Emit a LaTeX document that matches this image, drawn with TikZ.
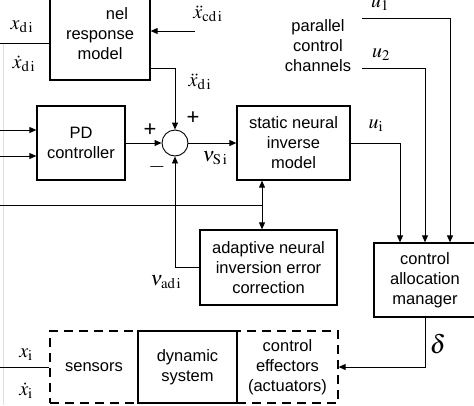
\documentclass[tikz,border=0pt]{standalone}
\usepackage{mathptmx}
\usepackage{fontspec}
\setmainfont{Liberation Sans}
\usepackage{tikz}
\usetikzlibrary{arrows.meta}
\newcommand{\lbl}{\fontsize{20}{24}\selectfont}

\begin{document}
\begin{tikzpicture}[x=1pt, y=-1pt,
        blk/.style={draw, line width=1.3pt, inner sep=0pt, align=center,
                font=\fontsize{16.5}{20}\selectfont},
        arr/.style={line width=.9pt, -{Triangle[length=7pt,width=6pt]}},
        ln/.style={line width=.9pt},
        lab/.style={inner sep=0pt}]
        \useasboundingbox (0,0) rectangle (474,405);
        \clip (0,0) rectangle (474,405);
        \draw[gray!25, line width=1pt] (3,43) -- (3,405);
        \node[blk, minimum width=100pt, minimum height=92pt] (rmodel) at (100,34) {\hspace*{34pt}nel\\response\\model};
        \node[blk, minimum width=88pt, minimum height=74pt] (pd) at (81,143) {PD\\controller};
        \node[draw, circle, line width=.9pt, minimum size=26pt, inner sep=0pt] (sum) at (175,143) {};
        \node[blk, minimum width=113pt, minimum height=74pt] (sinv) at (293.5,143) {static neural\\inverse\\model};
        \node[blk, minimum width=137pt, minimum height=75pt] (adapt) at (268.5,267.5) {adaptive neural\\inversion error\\correction};
        \node[blk, minimum width=102pt, minimum height=74pt] (cam) at (425,280) {control\\allocation\\manager};
        \node[blk, dashed, dash pattern=on 9pt off 6pt, minimum width=88pt, minimum height=72pt] (sensors) at (94,367) {sensors};
        \node[blk, dashed, dash pattern=on 9pt off 6pt, minimum width=101pt, minimum height=72pt] (effect) at (287.5,367) {control\\effectors\\(actuators)};
        \node[blk, minimum width=99pt, minimum height=72pt] (dynsys) at (187.5,367) {dynamic\\system};
        \coordinate (xdin) at (0,43);
        \coordinate (xcd) at (195,31);
        \coordinate (in1) at (0,130);
        \coordinate (in2) at (0,156);
        \coordinate (u1) at (362,18);
        \coordinate (u2) at (362,68);
        \coordinate (fb) at (0,205);
        \coordinate (junc) at (262,205);
        \coordinate (xi) at (0,367);
        \draw[ln] (xdin) -- (xdin -| rmodel.west);
        \draw[arr] (xcd) -- (xcd -| rmodel.east);
        \draw[arr] ([yshift=-34pt]rmodel.east) -| (sum.north);
        \draw[arr] (in1) -- (in1 -| pd.west);
        \draw[arr] (in2) -- (in2 -| pd.west);
        \draw[arr] (pd.east) -- (sum.west);
        \draw[arr] (sum.east) -- (sinv.west);
        \draw[arr] (sinv.east) -| ([xshift=-25pt]cam.north);
        \draw[arr] (u1) -| ([xshift=25pt]cam.north);
        \draw[arr] (u2) -| (cam.north);
        \draw[arr] (fb) -| (junc |- sinv.south);
        \draw[arr] (junc) -- (junc |- adapt.north);
        \draw[arr] (adapt.west) -| (sum.south);
        \draw[arr] (cam.south) |- (effect.east);
        \draw[ln] (sensors.west) -- (xi);
        \node[lab] at (22,27) {\lbl $x_{\mathrm{d\,i}}$};
        \node[lab] at (24,64) {\lbl $\dot{x}_{\mathrm{d\,i}}$};
        \node[lab] at (208,14) {\lbl $\ddot{x}_{\mathrm{cd\,i}}$};
        \node[lab] at (200,82) {\lbl $\ddot{x}_{\mathrm{d\,i}}$};
        \node[lab, font=\fontsize{22}{24}\selectfont] at (150,130) {+};
        \node[lab, font=\fontsize{22}{24}\selectfont] at (193,118) {+};
        \node[lab, font=\fontsize{22}{24}\selectfont] at (157,167) {$-$};
        \node[lab] at (215,158) {\lbl $\nu_{\mathrm{S\,i}}$};
        \node[lab] at (376,126) {\lbl $u_{\mathrm{i}}$};
        \node[lab] at (380,5) {\lbl $u_{1}$};
        \node[lab] at (381,55) {\lbl $u_{2}$};
        \node[align=center, font=\fontsize{16.5}{20}\selectfont] at (318,46) {parallel\\control\\channels};
        \node[lab] at (166,282) {\lbl $\nu_{\mathrm{ad\,i}}$};
        \node[lab, font=\fontsize{26}{28}\selectfont] at (438,344) {$\delta$};
        \node[lab] at (26,355) {\lbl $x_{\mathrm{i}}$};
        \node[lab] at (26,391) {\lbl $\dot{x}_{\mathrm{i}}$};
\end{tikzpicture}
\end{document}
